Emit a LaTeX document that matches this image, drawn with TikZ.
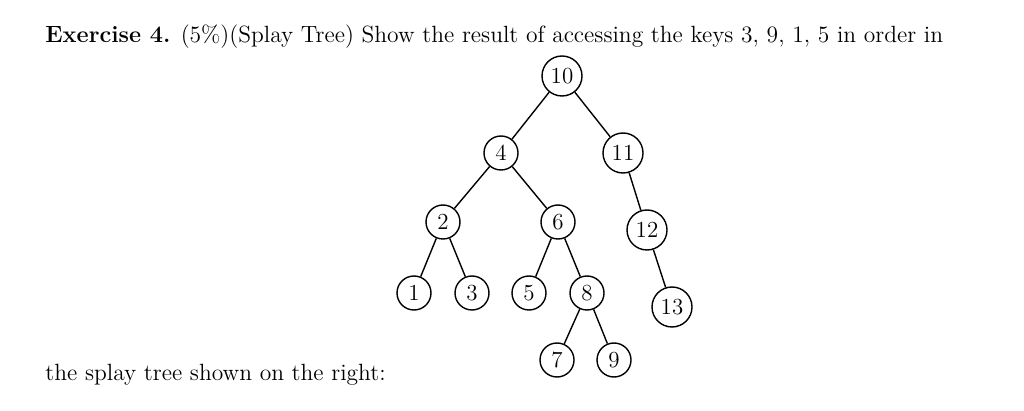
\documentclass[tikz,border=0pt]{standalone}
\begin{document}
\begin{tikzpicture}[x=0.5pt,y=-0.5pt,
  tn/.style={draw,circle,inner sep=0pt,minimum size=20pt,line width=0.7pt,font=\fontsize{11.5}{14}\selectfont},
  tx/.style={anchor=base west,inner sep=0pt,font=\fontsize{11.75}{14}\selectfont}]
\useasboundingbox (0,0) rectangle (1024,411);
\node[tx] (h) at (45,43) {\textbf{Exercise 4.} (5\%)(Splay Tree) Show the result of accessing the keys 3, 9, 1, 5 in order in};
\node[tx] (f) at (45,381) {the splay tree shown on the right:};
\node[tn] (n10) at (562,76) {10};
\node[tn,minimum size=17pt] (n4) at (501,153) {4};
\node[tn] (n11) at (623,153) {11};
\node[tn,minimum size=17pt] (n2) at (443,222) {2};
\node[tn,minimum size=17pt] (n6) at (558,222) {6};
\node[tn] (n12) at (647,230) {12};
\node[tn,minimum size=17pt] (n1) at (414,293) {1};
\node[tn,minimum size=17pt] (n3) at (472,293) {3};
\node[tn,minimum size=17pt] (n5) at (529,293) {5};
\node[tn,minimum size=17pt] (n8) at (587,293) {8};
\node[tn] (n13) at (672,307) {13};
\node[tn,minimum size=17pt] (n7) at (557,360) {7};
\node[tn,minimum size=17pt] (n9) at (614,360) {9};
\draw[line width=0.7pt] (n10)--(n4) (n10)--(n11) (n4)--(n2) (n4)--(n6) (n11)--(n12)
 (n2)--(n1) (n2)--(n3) (n6)--(n5) (n6)--(n8) (n12)--(n13) (n8)--(n7) (n8)--(n9);
\end{tikzpicture}
\end{document}
